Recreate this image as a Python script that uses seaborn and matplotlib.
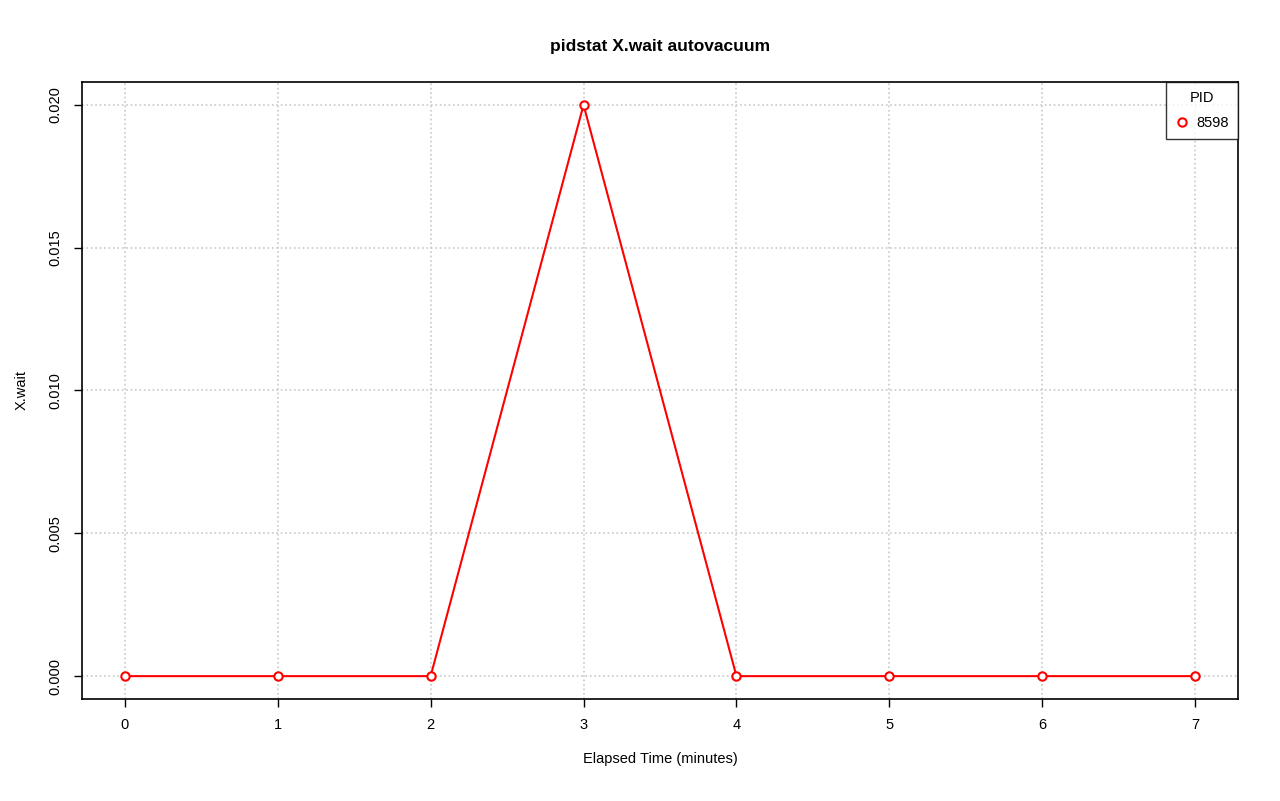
import seaborn as sns
import matplotlib.pyplot as plt
import pandas as pd

minutes = [0, 1, 2, 3, 4, 5, 6, 7]
xwait = [0.0, 0.0, 0.0, 0.02, 0.0, 0.0, 0.0, 0.0]
pid = "8598"

df = pd.DataFrame({"minutes": minutes, "xwait": xwait, "PID": pid})

sns.set_style("white")
plt.rcParams['font.family'] = ['Liberation Sans', 'DejaVu Sans']
plt.rcParams['text.color'] = 'black'
plt.rcParams['axes.labelcolor'] = 'black'
plt.rcParams['xtick.color'] = 'black'
plt.rcParams['ytick.color'] = 'black'

fig = plt.figure(figsize=(12.8, 8.01), dpi=100)
ax = fig.add_axes([82 / 1280, 102 / 801, 1156 / 1280, 617 / 801])

sns.lineplot(data=df, x="minutes", y="xwait", hue="PID", palette=["red"],
             marker="o", markersize=6, markerfacecolor="white",
             markeredgecolor="red", markeredgewidth=1.5, linewidth=1.5, ax=ax)

ax.set_xlim(-0.28, 7.28)
ax.set_ylim(-0.0008, 0.0208)
ax.set_xticks(minutes)
ax.set_yticks([0.0, 0.005, 0.010, 0.015, 0.020])
ax.set_yticklabels(["0.000", "0.005", "0.010", "0.015", "0.020"], rotation=90, va="center")
ax.grid(True, color="#c8c8c8", linestyle=":", linewidth=1.2)
ax.tick_params(axis="both", direction="out", length=6, width=1, labelsize=10.5, pad=8,
               left=True, bottom=True, color="black")
for s in ax.spines.values():
    s.set_color("black")
    s.set_linewidth(1.2)

ax.set_xlabel("Elapsed Time (minutes)", fontsize=10.5, labelpad=14)
ax.set_ylabel("X.wait", fontsize=10.5, labelpad=14)
ax.set_title("pidstat X.wait autovacuum", fontsize=12.5, fontweight="bold", pad=22)

leg = ax.legend(title="PID", loc="upper right", fontsize=10.5, title_fontsize=10.5,
                frameon=True, fancybox=False, edgecolor="black", borderaxespad=0,
                handlelength=1, handletextpad=0.5, borderpad=0.6, labelspacing=0.8)
leg.get_frame().set_linewidth(1)
for h in leg.legend_handles:
    h.set_linestyle("none")

fig.savefig("out.png", dpi=100)
